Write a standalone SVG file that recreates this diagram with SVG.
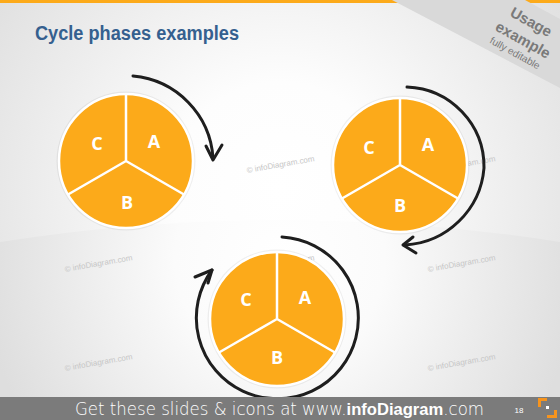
<svg xmlns="http://www.w3.org/2000/svg" xmlns:xlink="http://www.w3.org/1999/xlink" width="560" height="420" viewBox="0 0 560 420">
<defs>
<radialGradient id="bgTop" cx="280" cy="190" r="360" gradientUnits="userSpaceOnUse">
<stop offset="0" stop-color="#ffffff"/>
<stop offset="0.3" stop-color="#fdfdfd"/>
<stop offset="1" stop-color="#dedede"/>
</radialGradient>
<radialGradient id="bgLow" cx="280" cy="260" r="300" gradientUnits="userSpaceOnUse">
<stop offset="0" stop-color="#ffffff"/>
<stop offset="0.35" stop-color="#fbfbfb"/>
<stop offset="1" stop-color="#dedede"/>
</radialGradient>
<g id="pie">
<circle r="69.5" fill="#000" opacity="0.06"/>
<circle r="67" fill="#fcaa1a" stroke="#ffffff" stroke-width="2.5"/>
<path d="M0,0 V-67 M0,0 L-58,33.5 M0,0 L58,33.5" stroke="#ffffff" stroke-width="2.5" fill="none"/>
</g>
</defs>
<style>
.lbl{font-family:"Open Sans","Liberation Sans",sans-serif;font-weight:bold;font-size:18px;fill:#ffffff;text-anchor:middle}
.wm{font-family:"Liberation Sans",sans-serif;font-size:8px;fill:#c6c6c6;text-anchor:middle}
.arc{fill:none;stroke:#1e1e1e;stroke-width:3;stroke-linecap:round;stroke-linejoin:round}
.rib{font-family:"Liberation Sans",sans-serif;fill:#7a7a7a;text-anchor:middle}
</style>
<rect x="0" y="0" width="560" height="420" fill="url(#bgTop)"/>
<path d="M0,242 Q280,198 560,242 L560,397 L0,397 Z" fill="url(#bgLow)"/>
<rect x="0" y="0" width="560" height="3" fill="#fcaa1a"/>
<polygon points="392,0 525,0 560,19 560,88" fill="#d9d9d9"/>
<g id="ribbon-text">
<text class="rib" font-size="15" font-weight="bold" transform="translate(531,22) rotate(29)" y="5">Usage</text>
<text class="rib" font-size="15" font-weight="bold" transform="translate(523,40) rotate(29)" y="5">example</text>
<text class="rib" font-size="10" fill="#888888" transform="translate(515,53) rotate(29)" y="3.5">fully editable</text>
</g>
<text x="35" y="40" font-family="Liberation Sans, sans-serif" font-weight="bold" font-size="20" fill="#35608f" textLength="204" lengthAdjust="spacingAndGlyphs">Cycle phases examples</text>
<g id="watermarks">
<text class="wm" transform="translate(281,167) rotate(-10)">© infoDiagram.com</text>
<text class="wm" transform="translate(99,266) rotate(-10)">© infoDiagram.com</text>
<text class="wm" transform="translate(99,365) rotate(-10)">© infoDiagram.com</text>
<text class="wm" transform="translate(462,266) rotate(-10)">© infoDiagram.com</text>
<text class="wm" transform="translate(462,365) rotate(-10)">© infoDiagram.com</text>
<text class="wm" transform="translate(462,167) rotate(-10)">© infoDiagram.com</text>
<text class="wm" transform="translate(281,266) rotate(-10)">© infoDiagram.com</text>
</g>
<g id="cycle1">
<use xlink:href="#pie" href="#pie" transform="translate(126,161)"/>
<text class="lbl" x="97" y="149.5">C</text>
<text class="lbl" x="154" y="147.5">A</text>
<text class="lbl" x="127" y="208.5">B</text>
</g>
<g id="cycle2">
<use xlink:href="#pie" href="#pie" transform="translate(400,165)"/>
<text class="lbl" x="369" y="153.5">C</text>
<text class="lbl" x="428" y="150.5">A</text>
<text class="lbl" x="400" y="211.5">B</text>
</g>
<g id="cycle3">
<use xlink:href="#pie" href="#pie" transform="translate(277,319)"/>
<text class="lbl" x="246" y="305.5">C</text>
<text class="lbl" x="305" y="303.5">A</text>
<text class="lbl" x="277" y="363.5">B</text>
</g>
<g id="connectors">
<path class="arc" d="M133,76 A88,88 0 0 1 213,158"/>
<polyline class="arc" points="206,146 213,160 222,145"/>
<path class="arc" d="M407,87 A80,80 0 0 1 484,168 A84,84 0 0 1 405,245"/>
<polyline class="arc" points="413,237 403,245 416,253"/>
<path class="arc" d="M282,237 A81,81 0 1 1 212,270"/>
<polyline class="arc" points="195,277 212,270 208,283"/>
</g>
<g id="footer">
<rect x="0" y="397" width="560" height="23" fill="#7b7b7b"/>
<text x="75" y="415" font-family="DejaVu Sans, sans-serif" font-weight="200" font-size="17" fill="#ffffff" textLength="409" lengthAdjust="spacingAndGlyphs">Get these slides &amp; icons at www.<tspan font-family="Liberation Sans, sans-serif" font-weight="bold">infoDiagram</tspan>.com</text>
<text x="519" y="413" font-family="Liberation Sans, sans-serif" font-size="8" fill="#ffffff" text-anchor="middle">18</text>
<path d="M538,398 H547 V401 H541 V407 H538 Z" fill="#f7941d"/>
<path d="M557,410 V418 H547 V415 H554 V410 Z" fill="#f7941d"/>
<rect x="546" y="406" width="3" height="3" fill="#ffffff"/>
</g>
</svg>
